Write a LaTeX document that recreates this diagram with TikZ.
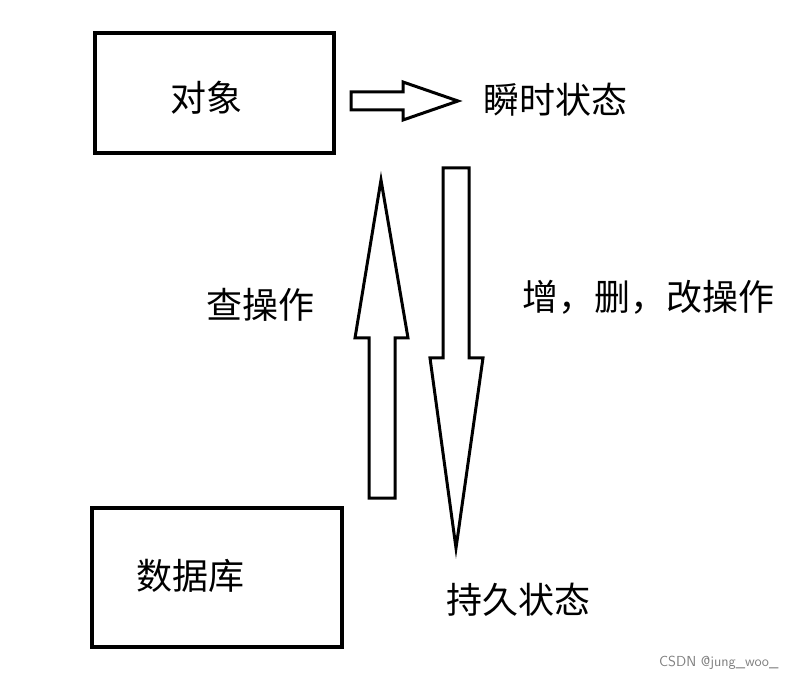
\documentclass[tikz,border=0pt]{standalone}
\usepackage{fontspec}
\newfontfamily\cjk{Noto Sans CJK SC}
\begin{document}
\begin{tikzpicture}[x=1pt,y=-1pt,
  boxst/.style={draw,line width=3.5pt},
  arr/.style={draw,line width=3pt,line join=miter},
  lbl/.style={font=\cjk\fontsize{36}{42}\selectfont,inner sep=0pt}]
\useasboundingbox (0,0) rectangle (796,679);
\fill[white] (0,0) rectangle (796,679);
\draw[boxst] (95,33) rectangle (334,153);
\draw[boxst] (92,508) rectangle (342,647);
\node[lbl] (obj) at (206,98) {对象};
\node[lbl] (db) at (190,576) {数据库};
\node[lbl] (ss) at (555,100) {瞬时状态};
\node[lbl] (cx) at (260,305) {查操作};
\node[lbl] (zsg) at (648,297) {增，删，改操作};
\node[lbl] (cj) at (518,600) {持久状态};
\draw[arr] (351,92) -- (403,92) -- (403,82) -- (458,101) -- (403,120) -- (403,110) -- (351,110) -- cycle;
\draw[arr] (369,498) -- (369,338) -- (355,338) -- (381,180) -- (408,338) -- (395,338) -- (395,498) -- cycle;
\draw[arr] (443,168) -- (469,168) -- (469,358) -- (483,358) -- (456,548) -- (430,358) -- (443,358) -- cycle;
\node[font=\sffamily\fontsize{14.5}{16}\selectfont,text=gray,anchor=east] (wm) at (782,663) {CSDN @jung\_woo\_};
\end{tikzpicture}
\end{document}
